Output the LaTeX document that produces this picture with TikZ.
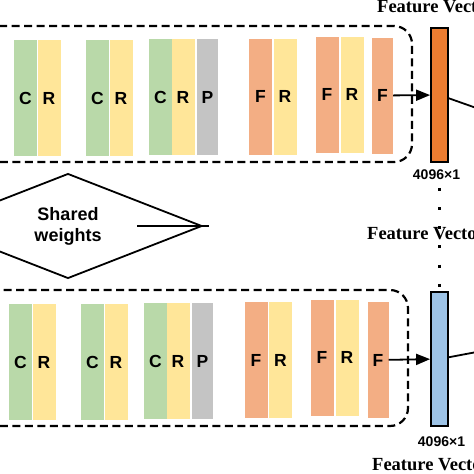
\documentclass[tikz,border=0pt]{standalone}
\usepackage{fontspec}
\setmainfont{Liberation Sans}
\newfontfamily\capserif{Liberation Serif}
\usepackage{xcolor}
\usepackage{tikz}
\usetikzlibrary{arrows.meta}
\usetikzlibrary{calc}
\usetikzlibrary{positioning}
\usetikzlibrary{shapes.geometric}

\definecolor{convgreen}{HTML}{B9D9A9}
\definecolor{reluyellow}{HTML}{FFE699}
\definecolor{poolgray}{HTML}{C4C4C4}
\definecolor{fcsalmon}{HTML}{F3AE84}
\definecolor{vecorange}{HTML}{ED7D31}
\definecolor{vecblue}{HTML}{9DC3E6}

\tikzset{
  layer/.style={inner sep=0pt, minimum width=23pt, minimum height=116pt,
    font=\bfseries\fontsize{17.5}{17.5}\selectfont},
  conv/.style={layer, fill=convgreen},
  relu/.style={layer, fill=reluyellow},
  pool/.style={layer, fill=poolgray, minimum width=21pt},
  fc/.style={layer, fill=fcsalmon},
  featvec/.style={draw=black, line width=1.8pt, inner sep=0pt,
    minimum width=17pt, minimum height=134pt},
  netbox/.style={line width=2.2pt, dash pattern=on 8pt off 4.5pt, rounded corners=18pt},
  vecname/.style={font=\capserif\bfseries\fontsize{18.5}{18.5}\selectfont,
    anchor=base west, inner sep=0pt},
  vecdim/.style={font=\bfseries\fontsize{14}{14}\selectfont, anchor=base, inner sep=0pt},
  feed/.style={line width=1.8pt, -{Triangle[length=14pt,width=11pt]}},
}

\begin{document}
\begin{tikzpicture}[x=1pt, y=-1pt]
    \useasboundingbox (0,0) rectangle (474,474);

    % the two networks
    \draw[netbox] (-40,26) rectangle (412,162);
    \draw[netbox] (-40,290) rectangle (408,426);

    % upper branch
    \node[conv] (C1) at (25.5,98) {C};
    \node[relu] (R1) at (49,98) {R};
    \node[conv] (C2) at (97.5,98) {C};
    \node[relu] (R2) at (121,98) {R};
    \node[conv] (C3) at (160.5,97) {C};
    \node[relu] (R3) at (183,97) {R};
    \node[pool] (P1) at (207.5,97) {P};
    \node[fc] (F1) at (260.5,96.5) {F};
    \node[relu] (R4) at (285,96.5) {R};
    \node[fc] (F2) at (327,94.5) {F};
    \node[relu] (R5) at (352,94.5) {R};
    \node[fc, minimum width=21pt] (F3) at (382.5,95.5) {F};

    % lower branch
    \node[conv] (C4) at (20.5,362) {C};
    \node[relu] (R6) at (44,362) {R};
    \node[conv] (C5) at (92.5,362) {C};
    \node[relu] (R7) at (116,362) {R};
    \node[conv] (C6) at (155.5,361) {C};
    \node[relu] (R8) at (178,361) {R};
    \node[pool] (P2) at (202.5,361) {P};
    \node[fc] (F4) at (256,360) {F};
    \node[relu] (R9) at (280.5,360) {R};
    \node[fc] (F5) at (322,357.5) {F};
    \node[relu] (R10) at (347,357.5) {R};
    \node[fc, minimum width=21pt] (F6) at (378,360) {F};

    % feature vectors
    \node[featvec, fill=vecorange] (VA) at (439.5,95) {};
    \node[featvec, fill=vecblue] (VB) at (439.5,359) {};
    \node[vecdim] (DA) at (436.5,179) {4096×1};
    \node[vecdim] (DB) at (441.5,446) {4096×1};

    \coordinate (OA) at (482,110);
    \coordinate (OB) at (482,351);

    \path [feed] (F3) edge (VA);
    \path [feed] (F6) edge (VB);
    \path [line width=1.8pt] (VA) edge (OA);
    \path [line width=1.8pt] (VB) edge (OB);
    \draw[line width=3pt, dash pattern=on 3pt off 16.2pt, dash phase=10.7pt]
      (DA.south -| VA.south) -- (VB.north);

    \node[vecname] (NA) at (377,12) {Feature Vector};
    \node[vecname] (NM) at (367,239) {Feature Vector};
    \node[vecname] (NB) at (372,470) {Feature Vector};

    % shared weights
    \node[draw=black, diamond, line width=1.8pt, minimum width=268pt, minimum height=98pt,
      inner sep=0pt, align=center, font=\bfseries\fontsize{18}{21}\selectfont] (SW) at (68,226) {Shared\\weights};
    \coordinate (SL) at (137,226);
    \path [line width=1.8pt] (SL) edge ($(SW.east)+(6,0)$);
  \end{tikzpicture}
\end{document}
